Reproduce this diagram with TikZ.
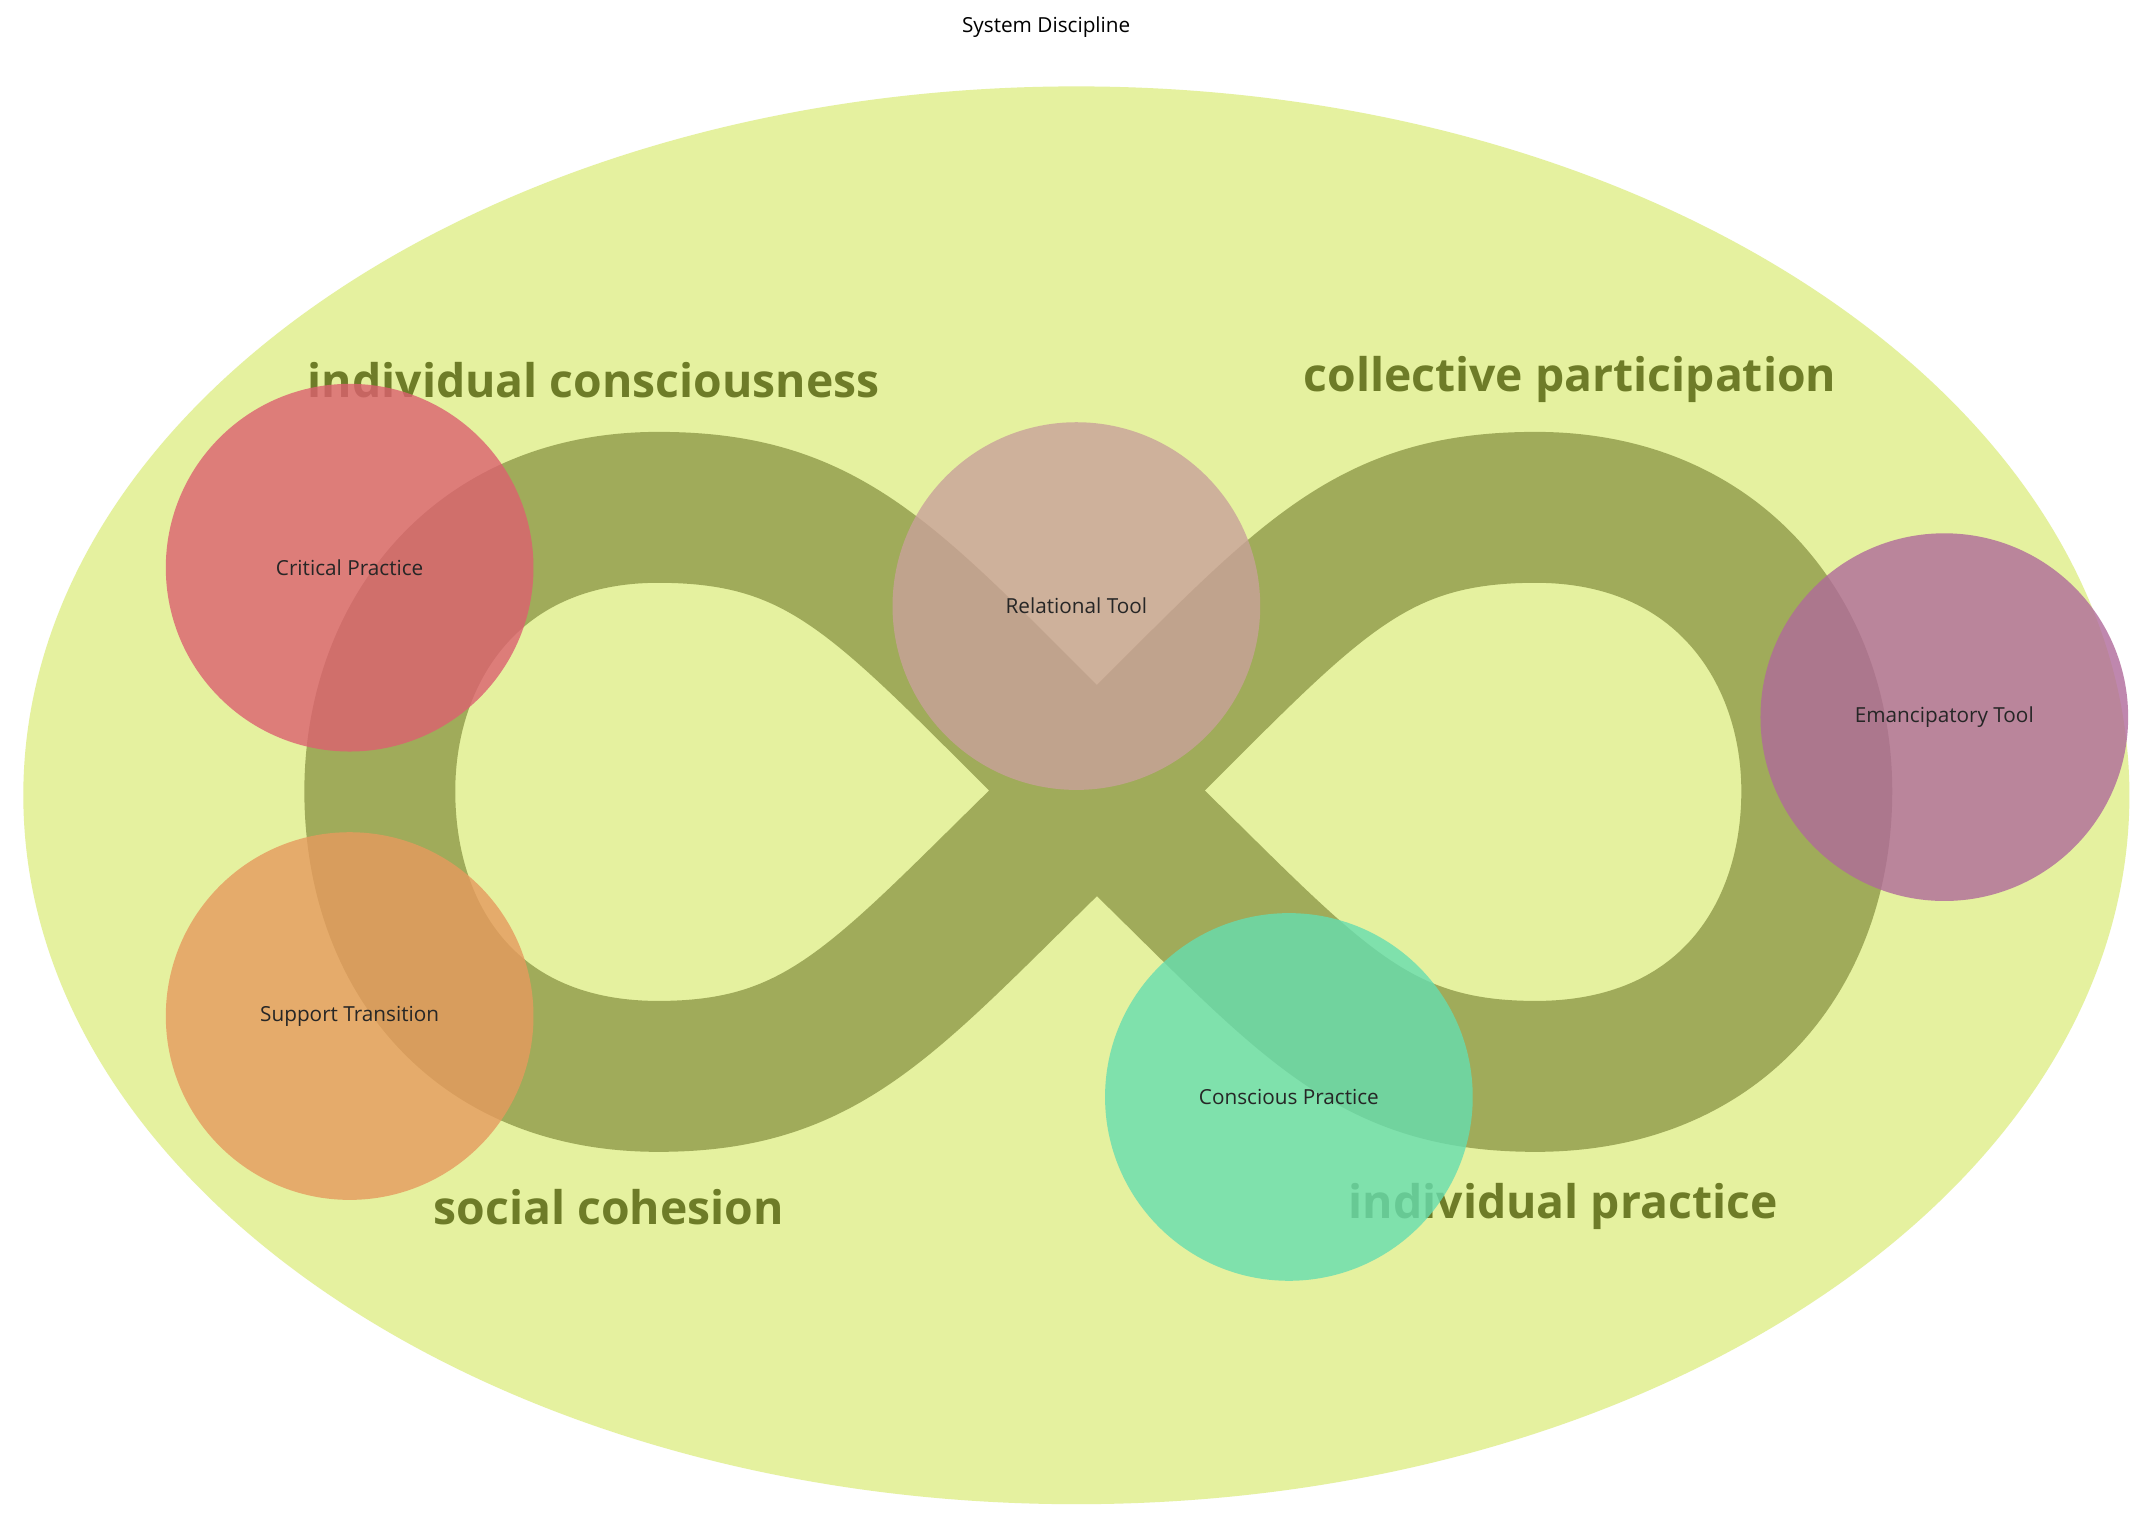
\documentclass[tikz,border=0pt]{standalone}
\usepackage{fontspec}
\setmainfont{Open Sans}
\begin{document}
\begin{tikzpicture}[x=0.01cm,y=-0.01cm,
  circ/.style={circle,minimum size=2.68cm,inner sep=0pt,fill opacity=0.8,text opacity=1,font=\fontsize{4.3}{5}\selectfont,text=black!85},
  big/.style={font=\bfseries\fontsize{9.6}{11}\selectfont,text={rgb,255:red,110;green,124;blue,40}}]
\useasboundingbox (0,0) rectangle (1568,1114);
\fill[white] (0,0) rectangle (1568,1114);
\node[font=\fontsize{4.3}{5}\selectfont] (title) at (763,20) {System Discipline};
\fill[fill={rgb,255:red,229;green,241;blue,159}] (785,580) ellipse [x radius=768,y radius=517];
\draw[line width=1.1cm,color={rgb,255:red,160;green,171;blue,90},line join=miter]
 (800,577) .. controls (650,430) and (610,370) .. (480,370) .. controls (345,370) and (277,470) .. (277,577)
 .. controls (277,690) and (345,785) .. (480,785) .. controls (610,785) and (650,720) .. (800,577)
 .. controls (950,430) and (990,370) .. (1120,370) .. controls (1255,370) and (1325,470) .. (1325,577)
 .. controls (1325,690) and (1255,785) .. (1120,785) .. controls (990,785) and (950,720) .. (800,577) -- cycle;
\node[big] (ic) at (433,277) {individual consciousness};
\node[big] (cp) at (1145,277) {collective participation};
\node[big] (sc) at (444,880) {social cohesion};
\node[big] (ip) at (1140,880) {individual practice};
\node[circ,fill={rgb,255:red,220;green,96;blue,112}] (crit) at (255,414) {Critical Practice};
\node[circ,fill={rgb,255:red,230;green,154;blue,94}] (supp) at (255,741) {Support Transition};
\node[circ,fill={rgb,255:red,201;green,161;blue,154}] (rel) at (785,442) {Relational Tool};
\node[circ,fill={rgb,255:red,176;green,106;blue,154}] (eman) at (1418,523) {Emancipatory Tool};
\node[circ,fill={rgb,255:red,102;green,221;blue,176}] (cons) at (940,800) {Conscious Practice};
\end{tikzpicture}
\end{document}
